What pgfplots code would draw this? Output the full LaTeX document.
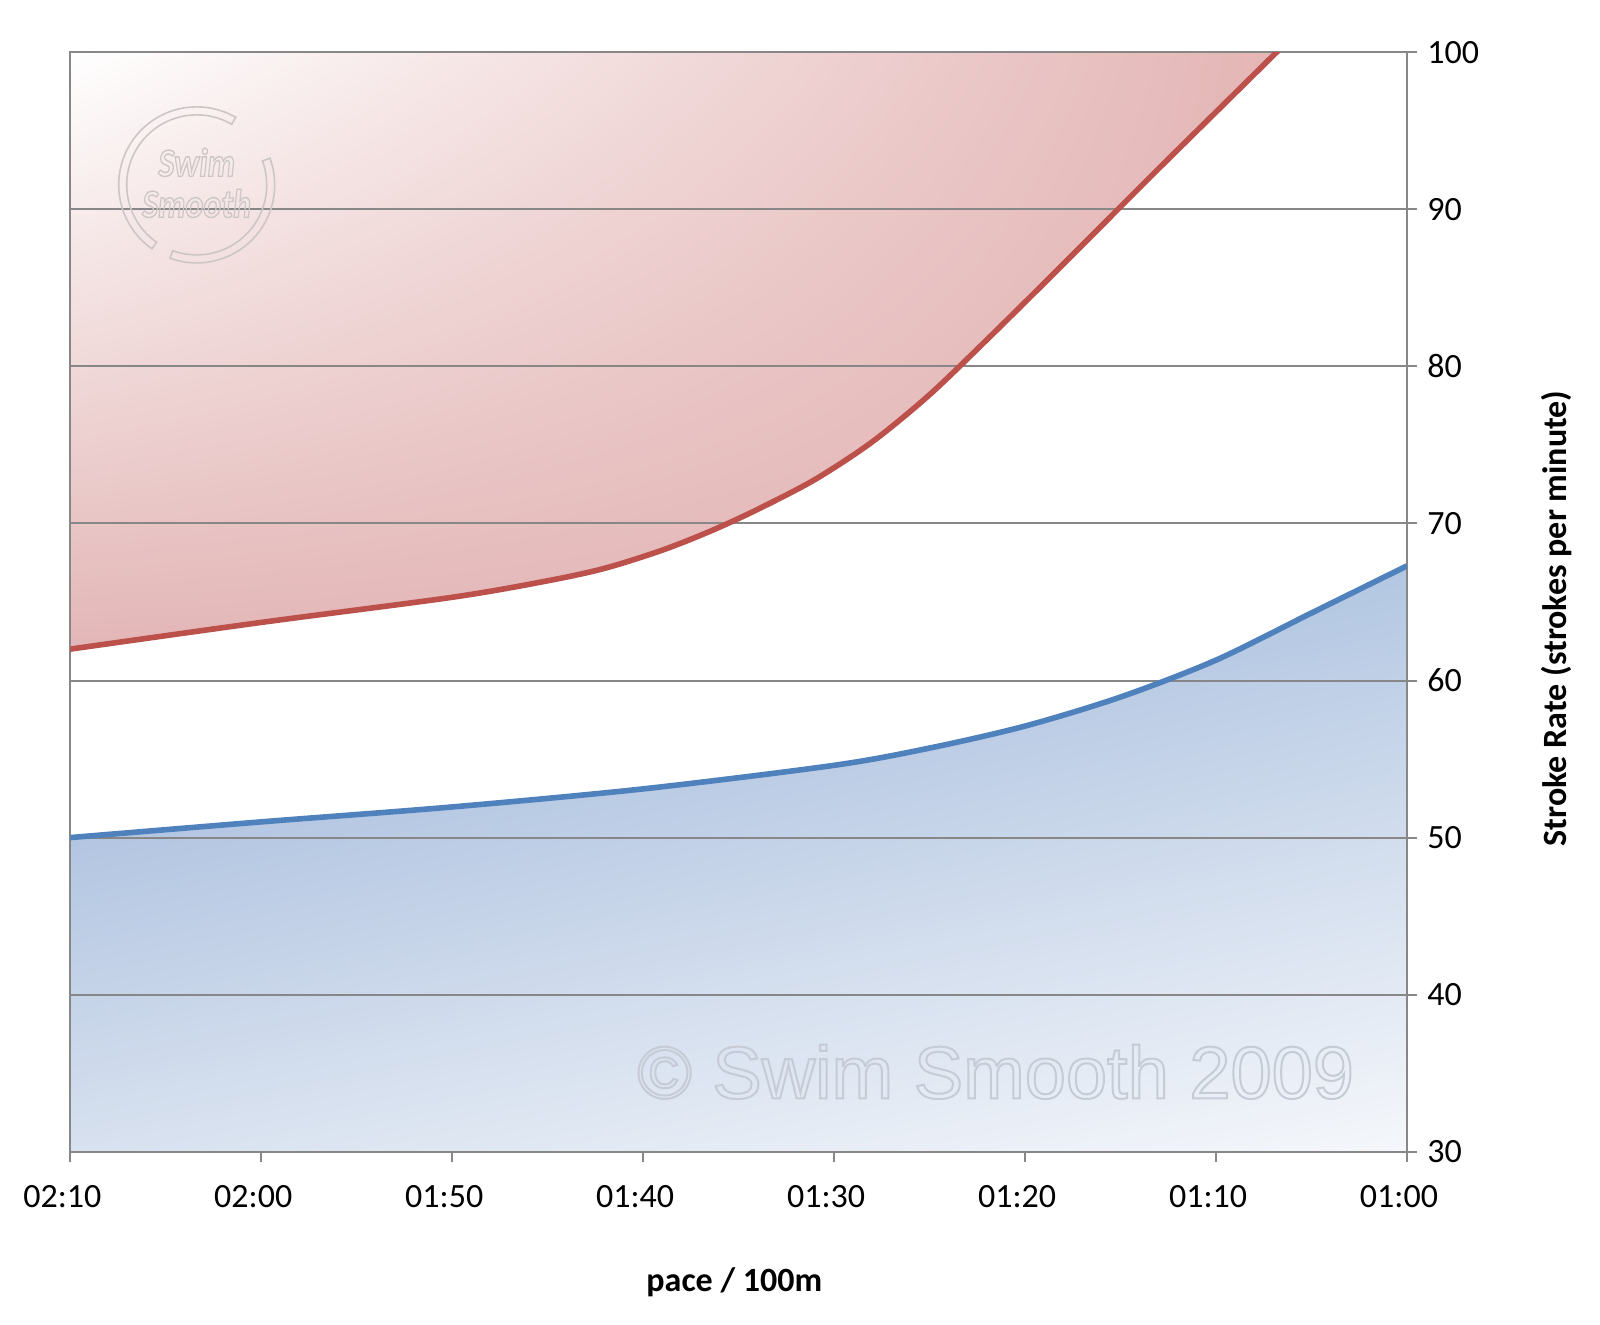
\documentclass[border=0pt]{standalone}
\usepackage{fontspec}
\setmainfont{Carlito}
\newfontfamily\wmfont{Liberation Sans}
\usepackage{pgfplots}
\pgfplotsset{compat=1.18}
\usetikzlibrary{shadings}
\definecolor{axgray}{HTML}{878787}
\definecolor{redline}{HTML}{BC514C}
\definecolor{blueline}{HTML}{4F81BD}
\definecolor{rUR}{HTML}{E4B5B5}
\definecolor{rLL}{HTML}{E3B6B6}
\definecolor{rLR}{HTML}{E3B3B3}
\definecolor{bUL}{HTML}{93ADD5}
\definecolor{bUR}{HTML}{B3C7E2}
\definecolor{bLL}{HTML}{D7E1EF}
\definecolor{bLR}{HTML}{F5F7FB}
\definecolor{wmgray}{HTML}{C6CCD6}
\definecolor{logogray}{HTML}{CCC6C6}
\newcommand\outlinetext[2]{\special{pdf:literal direct 1 Tr #1 w}#2\special{pdf:literal direct 0 Tr}}

\pgfplotstableread{
s v
130 62.0
120 63.7
110 65.3
105 66.35
102 67.15
99 68.3
96.5 69.5
94 70.9
91 72.8
88 75.2
85 78.2
82 81.7
79 85.3
76 88.95
73 92.6
70 96.2
67 99.8
64 103.4
}\redtab
\pgfplotstableread{
s v
130 50.0
120 51.0
110 51.95
100 53.1
90 54.6
85 55.7
80 57.1
75 58.95
70 61.3
65 64.3
60 67.3
}\bluetab

\begin{document}
\begin{tikzpicture}
\begin{axis}[
  set layers,
  at={(0pt,0pt)}, anchor=south west,
  scale only axis, width=668.35pt, height=549.7pt,
  x dir=reverse, xmin=60, xmax=130, ymin=30, ymax=100,
  xtick={60,70,...,130},
  xticklabels={01:00,01:10,01:20,01:30,01:40,01:50,02:00,02:10},
  ytick={30,40,...,100},
  xtick pos=bottom, ytick pos=right, yticklabel pos=right,
  tick align=outside, major tick length=5pt,
  axis line style={draw=axgray, line width=1pt},
  every tick/.style={draw=axgray, line width=1pt},
  ymajorgrids, major grid style={draw=axgray, line width=1pt},
  ticklabel style={font=\fontsize{17}{20}\selectfont, text=black},
  xticklabel style={xshift=-4pt, yshift=-8.5pt},
  yticklabel style={xshift=1.7pt},
  /pgf/number format/assume math mode=true,
  no markers,
]
% red zone (above the red curve)
\addplot[on layer=axis background, draw=none, shade,
  upper left=white, upper right=rUR, lower left=rLL, lower right=rLR]
  coordinates {(130,62) (66.7,62) (66.7,100) (130,100)};
\addplot[on layer=axis background, draw=none, fill=white, smooth]
  table[x=s, y=v] {\redtab} \closedcycle;
% blue zone (below the blue curve)
\addplot[on layer=axis background, draw=none, shade, smooth,
  upper left=bUL, upper right=bUR, lower left=bLL, lower right=bLR]
  table[x=s, y=v] {\bluetab} \closedcycle;
% curves
\addplot[redline, line width=2.8pt, smooth] table[x=s, y=v] {\redtab};
\addplot[blueline, line width=2.8pt, smooth] table[x=s, y=v] {\bluetab};
\end{axis}
% axis titles
\node[anchor=base, font=\bfseries\fontsize{17}{20}\selectfont] at (332pt,-70pt) {pace / 100m};
\node[rotate=90, anchor=base, font=\bfseries\fontsize{17}{20}\selectfont] at (747.9pt,266.6pt) {Stroke Rate (strokes per minute)};
% watermark
\node[font=\wmfont\fontsize{37}{40}\selectfont, text=wmgray] at (462.7pt,39.9pt)
  {\outlinetext{1}{© Swim Smooth 2009}};
% logo
\begin{scope}[shift={(63.2pt,483.4pt)}, draw=logogray, line width=0.8pt]
  \draw (60:39pt) arc[start angle=60, end angle=235, radius=39pt]
        -- (235:35pt) arc[start angle=235, end angle=60, radius=35pt] -- cycle;
  \draw (250:39pt) arc[start angle=250, end angle=380, radius=39pt]
        -- (380:35pt) arc[start angle=380, end angle=250, radius=35pt] -- cycle;
  \node[font=\bfseries\itshape\fontsize{20}{20.5}\selectfont, xscale=0.85, text=logogray,
        align=center, inner sep=0pt] at (0pt,1.0pt)
    {\outlinetext{0.7}{Swim\\Smooth}};
\end{scope}
\pgfresetboundingbox
\path (-35.15pt,-86.65pt) rectangle (764.85pt,575.85pt);
\end{tikzpicture}
\end{document}
